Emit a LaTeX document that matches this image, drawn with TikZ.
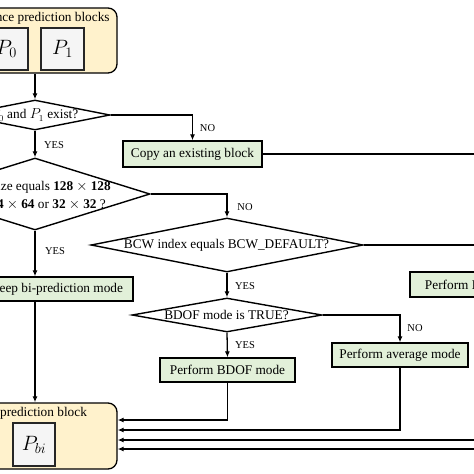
\documentclass[tikz,border=0pt]{standalone}
\usepackage{fontspec}
\setmainfont{Liberation Serif}
\usetikzlibrary{shapes.geometric,arrows.meta}
\definecolor{yel}{HTML}{FFF2CC}
\definecolor{grn}{HTML}{E2F0D9}
\definecolor{gry}{HTML}{F5F5F5}
\tikzset{
  txt/.style={font=\fontsize{13.3}{15.5}\selectfont, inner sep=0pt},
  lbl/.style={font=\fontsize{10.5}{12}\selectfont, inner sep=0pt},
  big/.style={font=\fontsize{21}{24}\selectfont, inner sep=0pt},
  proc/.style={draw=black, line width=1.3pt, fill=grn, inner sep=0pt,
    font=\fontsize{13.3}{15.5}\selectfont},
  group/.style={draw=black, line width=1.3pt, fill=yel, rounded corners=9pt, inner sep=0pt},
  blk/.style={draw=black!85, line width=1.1pt, fill=gry, inner sep=0pt},
  dec/.style={diamond, draw=black, line width=1.4pt, inner sep=0pt},
  arr/.style={-{Latex[length=6pt,width=5pt]}, line width=1.3pt},
  ln/.style={line width=1.3pt}
}
\begin{document}
\begin{tikzpicture}[x=1pt,y=-1pt]
\useasboundingbox (0,0) rectangle (474,474);
\clip (0,0) rectangle (474,474);
\fill[white] (0,0) rectangle (474,474);

% reference blocks
\node[group, minimum width=164pt, minimum height=65pt] (ref) at (35,40.5) {};
\node[txt] (reft) at (35,18.5) {Reference prediction blocks};
\node[blk, minimum width=43pt, minimum height=42pt] (p0) at (6.5,49) {};
\node[big] (p0t) at (6.5,49) {$P_0$};
\node[blk, minimum width=43pt, minimum height=42pt] (p1) at (62.5,49) {};
\node[big] (p1t) at (62.5,49) {$P_1$};

% decision 1
\node[dec, minimum width=150pt, minimum height=30pt] (q1) at (35,115) {};
\node[txt] (q1t) at (34,115) {$P_0$ and $P_1$ exist?};

% copy
\node[proc, minimum width=139pt, minimum height=26pt] (copy) at (192.5,154) {Copy an existing block};

% decision 2
\node[dec, minimum width=230pt, minimum height=72pt] (q2) at (35,194) {};
\node[txt, anchor=east, align=right] (q2t) at (111,195)
  {CU size equals $\mathbf{128}\times\mathbf{128}$\\[2.5pt]
   $\mathbf{64}\times\mathbf{64}$ or $\mathbf{32}\times\mathbf{32}$ ?\hspace*{5pt}};

% keep
\node[proc, minimum width=153pt, minimum height=24pt] (keep) at (56.5,289) {Keep bi-prediction mode};

% decision 3
\node[dec, minimum width=272pt, minimum height=54pt] (q3) at (227,245) {};
\node[txt] (q3t) at (226.5,245) {BCW index equals BCW\_DEFAULT?};

% BCW
\node[proc, minimum width=140pt, minimum height=25pt] (bcw) at (480,284.5) {Perform BCW mode};

% decision 4
\node[dec, minimum width=190pt, minimum height=34pt] (q4) at (227,315) {};
\node[txt] (q4t) at (226.5,315) {BDOF mode is TRUE?};

% average / BDOF
\node[proc, minimum width=136pt, minimum height=24pt] (avg) at (400,355) {Perform average mode};
\node[proc, minimum width=135pt, minimum height=24pt] (bdof) at (227.5,370) {Perform BDOF mode};

% result
\node[group, minimum width=164pt, minimum height=66pt] (res) at (35,436) {};
\node[txt] (rest) at (35,413) {Bi-prediction block};
\node[blk, minimum width=42pt, minimum height=43pt] (pbi) at (34,444.5) {};
\node[big] (pbit) at (34,444.5) {$P_{bi}$};

\coordinate (cright) at (520,300);

% connectors
\draw[arr] (ref.south) -- (q1.north);
\draw[arr] (q1.east) -| (copy.north);
\node[lbl] (no1) at (207.5,128) {NO};
\draw[arr] (q1.south) -- (q2.north);
\node[lbl] (yes1) at (54,145) {YES};
\draw[arr] (q2.east) -| (q3.north);
\node[lbl] (no2) at (245,207) {NO};
\draw[arr] (q2.south) -- (q2.south |- keep.north);
\node[lbl] (yes2) at (55,251) {YES};
\draw[arr] (q3.east) -| (bcw.north);
\draw[arr] (q3.south) -- (q4.north);
\node[lbl] (yes3) at (245,286) {YES};
\draw[arr] (q4.east) -| (avg.north);
\node[lbl] (no3) at (415,328) {NO};
\draw[arr] (q4.south) -- (bdof.north);
\node[lbl] (yes4) at (245,345) {YES};

\draw[arr] (q2.south |- keep.south) -- (q2.south |- res.north);
\draw[arr] (bdof.south) |- ([yshift=16pt]res.east);
\draw[arr] (avg.south) |- ([yshift=6pt]res.east);
\draw[arr] (bcw.south) |- ([yshift=-4pt]res.east);
\draw[arr] (copy.east) -| (cright) |- ([yshift=-13pt]res.east);
\end{tikzpicture}
\end{document}
